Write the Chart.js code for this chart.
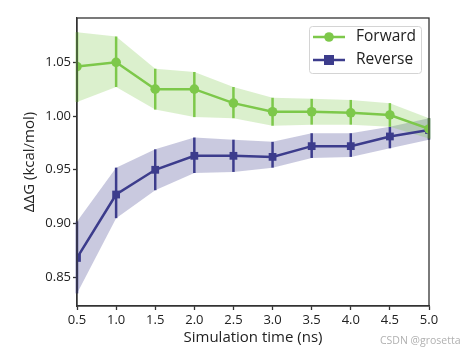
<!DOCTYPE html>
<html>
<head>
<meta charset="utf-8">
<script src="https://cdn.jsdelivr.net/npm/chart.js@4"></script>
<style>
  html, body { margin: 0; padding: 0; background: #fff; }
  #wrap { width: 474px; height: 354px; }
</style>
</head>
<body>
<div id="wrap"><canvas id="c" width="474" height="354"></canvas></div>
<script>
const times = [0.5, 1.0, 1.5, 2.0, 2.5, 3.0, 3.5, 4.0, 4.5, 5.0];
const forward = [1.046, 1.050, 1.025, 1.025, 1.012, 1.004, 1.004, 1.003, 1.001, 0.988];
const forwardHi = [1.078, 1.074, 1.044, 1.041, 1.027, 1.017, 1.016, 1.015, 1.012, 0.998];
const forwardLo = [1.013, 1.027, 1.006, 0.999, 0.998, 0.991, 0.992, 0.992, 0.990, 0.979];
const reverse = [0.868, 0.927, 0.950, 0.963, 0.963, 0.962, 0.972, 0.972, 0.981, 0.987];
const reverseHi = [0.902, 0.952, 0.969, 0.980, 0.978, 0.976, 0.984, 0.984, 0.990, 0.998];
const reverseLo = [0.835, 0.905, 0.931, 0.947, 0.948, 0.952, 0.961, 0.962, 0.970, 0.978];
const xTicks = [0.5, 1.0, 1.5, 2.0, 2.5, 3.0, 3.5, 4.0, 4.5, 5.0];
const yTicks = [0.85, 0.90, 0.95, 1.00, 1.05];

const GREEN = "#7dc84a";
const NAVY = "#3c3c8c";
const FONT = "'Open Sans', 'Noto Sans', sans-serif";

function pts(ys) {
  return times.map((t, i) => ({ x: t, y: ys[i] }));
}

const errors = {
  0: { hi: forwardHi, lo: forwardLo, color: GREEN },
  1: { hi: reverseHi, lo: reverseLo, color: NAVY }
};

const errorBars = {
  id: "errorBars",
  beforeDatasetDraw(chart, args) {
    const e = errors[args.index];
    if (!e) return;
    const xs = chart.scales.x, ys = chart.scales.y;
    const ctx = chart.ctx;
    ctx.save();
    ctx.strokeStyle = e.color;
    ctx.lineWidth = 2.5;
    times.forEach((t, i) => {
      const px = xs.getPixelForValue(t);
      ctx.beginPath();
      ctx.moveTo(px, ys.getPixelForValue(e.hi[i]));
      ctx.lineTo(px, ys.getPixelForValue(e.lo[i]));
      ctx.stroke();
    });
    ctx.restore();
  }
};

const frameAndLegend = {
  id: "frameAndLegend",
  afterDraw(chart) {
    const ctx = chart.ctx;
    const a = chart.chartArea;
    ctx.save();
    ctx.strokeStyle = "#333";
    ctx.lineWidth = 1.3;
    ctx.strokeRect(a.left, a.top, a.right - a.left, a.bottom - a.top);

    // legend box
    const bx = 309, by = 26, bw = 112, bh = 47, r = 3;
    ctx.fillStyle = "rgba(255,255,255,0.85)";
    ctx.strokeStyle = "#d4d4d4";
    ctx.lineWidth = 1;
    ctx.beginPath();
    ctx.roundRect(bx + 0.5, by + 0.5, bw, bh, r);
    ctx.fill();
    ctx.stroke();

    const rows = [
      { label: chart.data.datasets[0].label, color: GREEN, style: "circle", y: 37 },
      { label: chart.data.datasets[1].label, color: NAVY, style: "rect", y: 60 }
    ];
    rows.forEach((row) => {
      ctx.strokeStyle = row.color;
      ctx.fillStyle = row.color;
      ctx.lineWidth = 2.5;
      ctx.beginPath();
      ctx.moveTo(313, row.y);
      ctx.lineTo(345, row.y);
      ctx.stroke();
      if (row.style === "circle") {
        ctx.beginPath();
        ctx.arc(329, row.y, 4.8, 0, Math.PI * 2);
        ctx.fill();
      } else {
        ctx.fillRect(324, row.y - 5, 10, 10);
      }
      ctx.fillStyle = "#222";
      ctx.font = "15.5px " + FONT;
      ctx.textBaseline = "middle";
      ctx.textAlign = "left";
      ctx.fillText(row.label, 356, row.y);
    });

    // watermark
    ctx.fillStyle = "#b0b0b0";
    ctx.font = "10.5px " + FONT;
    ctx.textAlign = "left";
    ctx.textBaseline = "middle";
    ctx.fillText("CSDN @grosetta", 380, 341);
    ctx.restore();
  }
};

const band = (data, color, fill) => ({
  label: "",
  data: pts(data),
  borderWidth: 0,
  pointRadius: 0,
  backgroundColor: color,
  fill: fill
});

new Chart(document.getElementById("c"), {
  type: "line",
  data: {
    datasets: [
      {
        label: "Forward",
        data: pts(forward),
        borderColor: GREEN,
        backgroundColor: GREEN,
        borderWidth: 2.5,
        pointStyle: "circle",
        pointRadius: 4.8,
        pointBorderWidth: 0,
        fill: false
      },
      {
        label: "Reverse",
        data: pts(reverse),
        borderColor: NAVY,
        backgroundColor: NAVY,
        borderWidth: 2.5,
        pointStyle: "rect",
        pointRadius: 5.5,
        pointBorderWidth: 0,
        fill: false
      },
      band(forwardHi, "rgba(125,200,74,0.28)", "+1"),
      band(forwardLo, "rgba(125,200,74,0.28)", false),
      band(reverseHi, "rgba(60,60,140,0.28)", "+1"),
      band(reverseLo, "rgba(60,60,140,0.28)", false)
    ]
  },
  options: {
    responsive: false,
    animation: false,
    events: [],
    layout: { padding: { top: 18, right: 45, left: 0, bottom: 0 } },
    plugins: {
      legend: { display: false },
      tooltip: { enabled: false }
    },
    elements: { line: { tension: 0 } },
    scales: {
      x: {
        type: "linear",
        min: 0.5,
        max: 5.0,
        afterBuildTicks: (s) => { s.ticks = xTicks.map((v) => ({ value: v })); },
        afterFit: (s) => { s.height = 48; },
        grid: { drawOnChartArea: false, tickLength: 4, color: "#333", tickWidth: 1.3 },
        border: { color: "#333", width: 1.3 },
        ticks: {
          color: "#222",
          padding: 2,
          maxRotation: 0,
          font: { family: FONT, size: 13 },
          callback: (v) => Number(v).toFixed(1)
        },
        title: {
          display: true,
          text: "Simulation time (ns)",
          color: "#222",
          font: { family: FONT, size: 15 },
          padding: { top: 0, bottom: 7 }
        }
      },
      y: {
        min: 0.8233,
        max: 1.0912,
        afterBuildTicks: (s) => { s.ticks = yTicks.map((v) => ({ value: v })); },
        afterFit: (s) => { s.width = 77; },
        grid: { drawOnChartArea: false, tickLength: 4, color: "#333", tickWidth: 1.3 },
        border: { color: "#333", width: 1.3 },
        ticks: {
          color: "#222",
          padding: 2,
          font: { family: FONT, size: 13 },
          callback: (v) => Number(v).toFixed(2)
        },
        title: {
          display: true,
          text: "ΔΔG (kcal/mol)",
          color: "#222",
          font: { family: FONT, size: 15 },
          padding: { top: 21, bottom: 0 }
        }
      }
    }
  },
  plugins: [errorBars, frameAndLegend]
});
</script>
</body>
</html>
